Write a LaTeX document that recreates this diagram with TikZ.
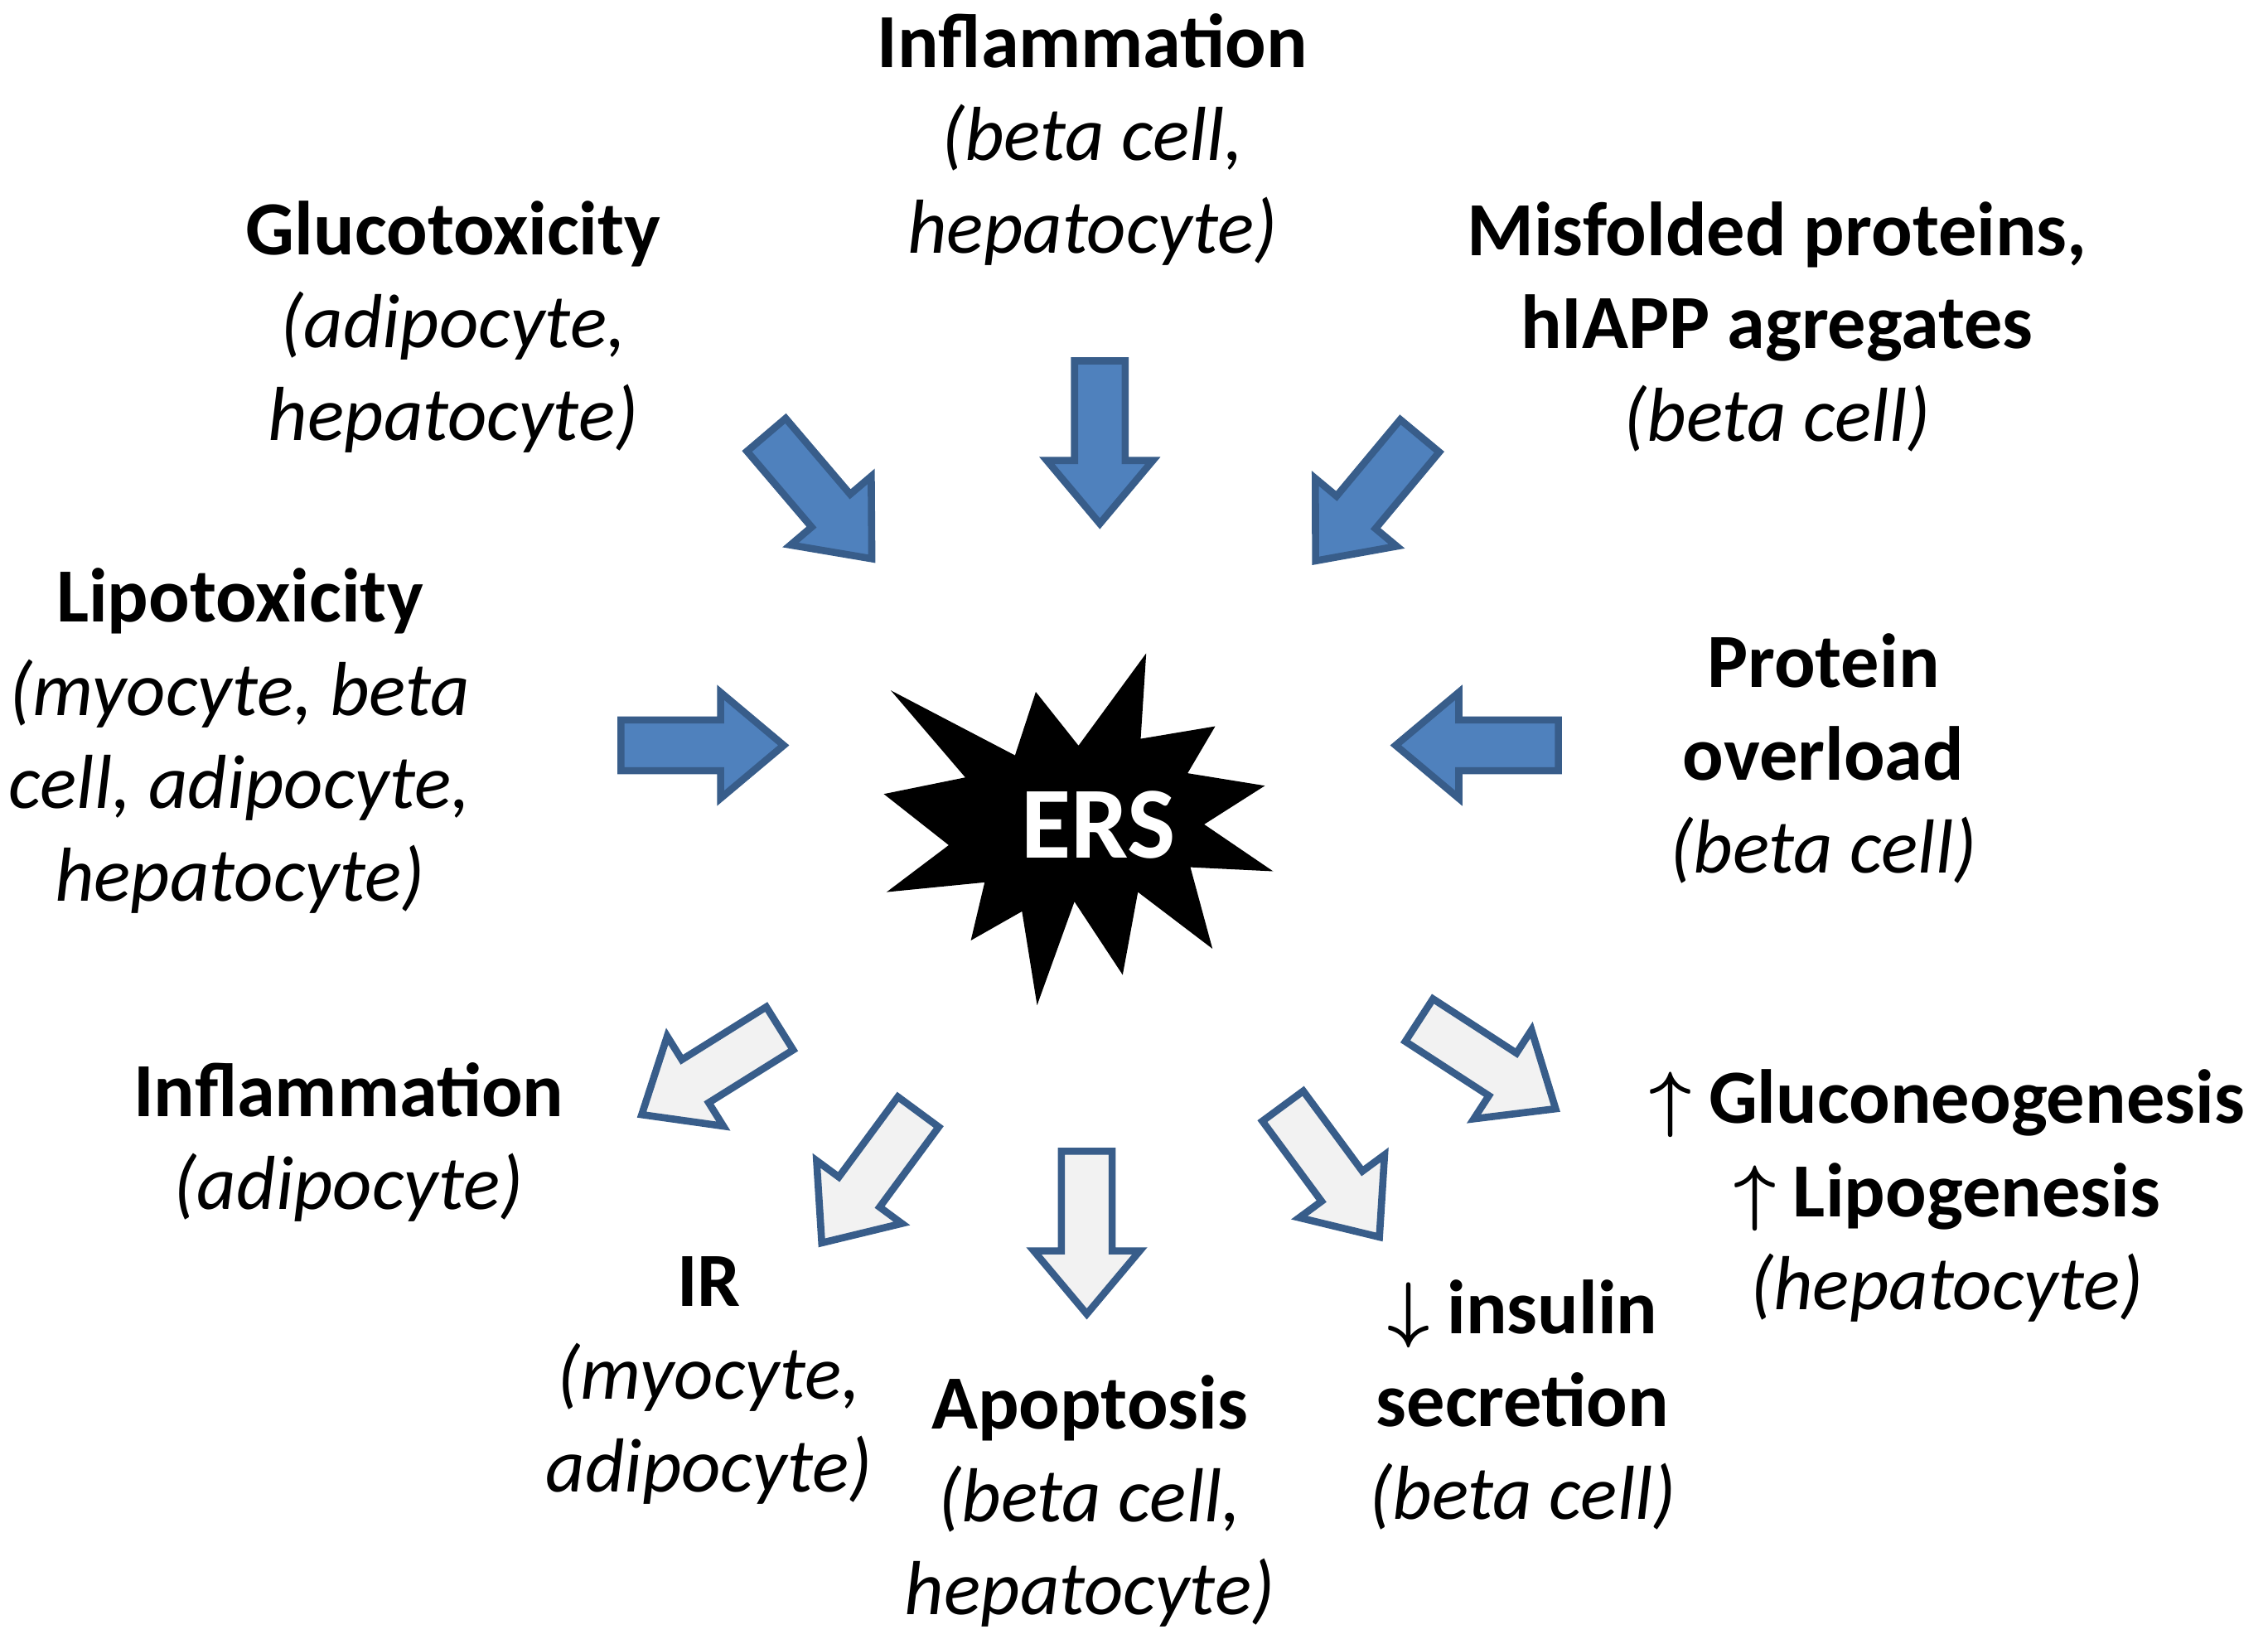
\documentclass[tikz,border=0pt]{standalone}
\usepackage{fontspec}
\setmainfont{Carlito}
\usetikzlibrary{shapes.arrows}
\definecolor{arrowblue}{RGB}{79,129,189}
\definecolor{arrowedge}{RGB}{56,93,138}
\definecolor{arrowpale}{RGB}{242,242,242}
\begin{document}
\begin{tikzpicture}[thick,
 			block/.style={single arrow,draw=arrowedge,line width=1.4pt,inner sep=0.15cm,
 			  single arrow head extend=0.19cm,single arrow tip angle=80,minimum height=1.12cm},
 			in arrow/.style={block,fill=arrowblue},
 			out arrow/.style={block,fill=arrowpale},
 			label text/.style={align=center,font=\fontsize{15}{18.2}\selectfont}]
 			\useasboundingbox (0,0) rectangle (15.61,-11.28);
 			% centre
 			\fill[black] (6.131,-4.752) -- (6.986,-5.199) -- (7.129,-4.762) -- (7.423,-5.132)
 			 -- (7.889,-4.496) -- (7.851,-5.085) -- (8.364,-4.999) -- (8.174,-5.322)
 			 -- (8.706,-5.408) -- (8.288,-5.674) -- (8.763,-5.997) -- (8.193,-5.969)
 			 -- (8.345,-6.530) -- (7.832,-6.140) -- (7.727,-6.710) -- (7.395,-6.206)
 			 -- (7.138,-6.919) -- (7.034,-6.273) -- (6.682,-6.473) -- (6.777,-6.073)
 			 -- (6.102,-6.140) -- (6.530,-5.817) -- (6.083,-5.465) -- (6.644,-5.351) -- cycle;
 			\node[text=white,font=\fontsize{20}{22}\selectfont\bfseries] (ERS) at (7.56,-5.68) {ERS};
 			% causes
 			\node[label text] (infl) at (7.52,-0.96) {\textbf{Inflammation}\\\textit{(beta cell,}\\\textit{hepatocyte)}};
 			\node[label text] (gluco) at (3.12,-2.25) {\textbf{Glucotoxicity}\\\textit{(adipocyte,}\\\textit{hepatocyte)}};
 			\node[label text] (misf) at (12.23,-2.25) {\textbf{Misfolded proteins,}\\\textbf{hIAPP agregates}\\\textit{(beta cell)}};
 			\node[label text] (lipo) at (1.65,-5.10) {\textbf{Lipotoxicity}\\\textit{(myocyte, beta}\\\textit{cell, adipocyte,}\\\textit{hepatocyte)}};
 			\node[label text] (prot) at (12.55,-5.22) {\textbf{Protein}\\\textbf{overload}\\\textit{(beta cell)}};
 			\node[in arrow,rotate=-90] (a1) at (7.57,-2.94) {};
 			\node[in arrow,rotate=-49.6] (a2) at (5.57,-3.34) {};
 			\node[in arrow,rotate=-129.8] (a3) at (9.48,-3.35) {};
 			\node[in arrow] (a4) at (4.73,-5.13) {};
 			\node[in arrow,rotate=180] (a5) at (10.27,-5.13) {};
 			% effects
 			\node[out arrow,rotate=212] (b1) at (4.98,-7.32) {};
 			\node[out arrow,rotate=233.6] (b2) at (6.05,-8.02) {};
 			\node[out arrow,rotate=-90] (b3) at (7.48,-8.38) {};
 			\node[out arrow,rotate=-53.6] (b4) at (9.10,-7.98) {};
 			\node[out arrow,rotate=-33] (b5) at (10.15,-7.27) {};
 			\node[label text] (inflb) at (2.40,-7.86) {\textbf{Inflammation}\\\textit{(adipocyte)}};
 			\node[label text] (ir) at (4.88,-9.50) {\textbf{IR}\\\textit{(myocyte,}\\\textit{adipocyte)}};
 			\node[label text] (apop) at (7.50,-10.33) {\textbf{Apoptosis}\\\textit{(beta cell,}\\\textit{hepatocyte)}};
 			\node[label text] (insul) at (10.48,-9.67) {\textbf{\boldmath$\downarrow$ insulin}\\\textbf{secretion}\\\textit{(beta cell)}};
 			\node[label text] (gluc) at (13.40,-8.23) {\textbf{\boldmath$\uparrow$ Gluconeogenesis}\\\textbf{\boldmath$\uparrow$ Lipogenesis}\\\textit{(hepatocyte)}};
\end{tikzpicture}
\end{document}
